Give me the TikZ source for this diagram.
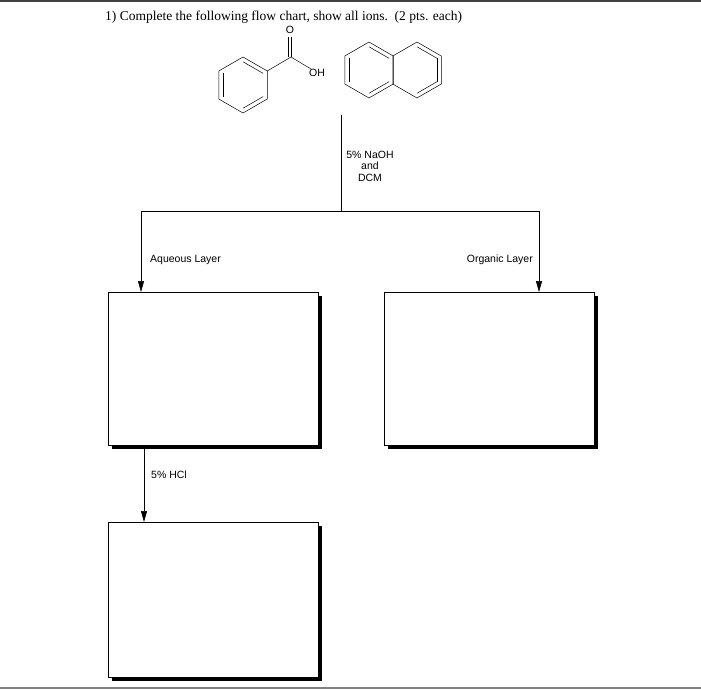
\documentclass[tikz,border=0pt]{standalone}
\usepackage{fontspec}
\usetikzlibrary{calc,arrows.meta}
\newfontfamily\arial{Liberation Sans}
\setmainfont{Liberation Serif}
\begin{document}
\begin{tikzpicture}[x=1pt,y=-1pt,
  lbl/.style={font=\arial\fontsize{10.5}{11.5}\selectfont,inner sep=0},
  bx/.style={draw,line width=0.6pt,fill=white,minimum width=210pt,minimum height=153pt,inner sep=0,anchor=north west},
  flow/.style={line width=0.6pt},
  arr/.style={flow,-{Triangle[length=11pt,width=6pt]}},
  bond/.style={line width=0.5pt}]
\useasboundingbox (0,0) rectangle (701,689);
\fill[white] (0,0) rectangle (701,689);
\draw[line width=2pt,black!75] (0,1) -- (701,1);
\draw[line width=1.5pt,black!50] (0,688) -- (701,688);
\node[anchor=west,inner sep=0,font=\fontsize{13.5}{15}\selectfont] (title) at (105,17) {1) Complete the following flow chart, show all ions.\ \ (2 pts. each)};
% benzoic acid
\begin{scope}[shift={(243,85)}]
\coordinate (c) at (0,0);
\foreach \a in {30,90,...,330}{\coordinate (b\a) at (\a:28);}
\draw[bond] (b30)--(b90)--(b150)--(b210)--(b270)--(b330)--cycle;
\foreach \p/\q in {150/210,270/330,30/90}{\draw[bond] ($(b\p)!0.17!(c)$)--($(b\q)!0.17!(c)$);}
\end{scope}
\coordinate (cc) at (291,57);
\draw[bond] (b330)--(cc)--(311,69);
\draw[bond] (cc)--(291,37);
\draw[bond] (288,57)--(288,37);
\node[lbl] (o) at (290,30) {O};
\node[lbl,anchor=west] (oh) at (309,73) {OH};
% naphthalene
\begin{scope}[shift={(369,70)}]
\coordinate (c) at (0,0);
\foreach \a in {30,90,...,330}{\coordinate (n\a) at (\a:28);}
\draw[bond] (n30)--(n90)--(n150)--(n210)--(n270)--(n330)--cycle;
\foreach \p/\q in {150/210,270/330,30/90}{\draw[bond] ($(n\p)!0.17!(c)$)--($(n\q)!0.17!(c)$);}
\end{scope}
\begin{scope}[shift={(417,70)}]
\coordinate (c) at (0,0);
\foreach \a in {30,90,...,330}{\coordinate (m\a) at (\a:28);}
\draw[bond] (m30)--(m90)--(m150)--(m210)--(m270)--(m330)--cycle;
\foreach \p/\q in {270/330,30/90}{\draw[bond] ($(m\p)!0.17!(c)$)--($(m\q)!0.17!(c)$);}
\draw[bond] ($(m330)!0.17!(c)$)--($(m30)!0.17!(c)$);
\end{scope}
% flow
\coordinate (top) at (341,115);
\coordinate (split) at (341,211);
\coordinate (left) at (141,211);
\coordinate (right) at (539,211);
\draw[flow] (top)--(split);
\draw[flow] (left)--(right);
\node[lbl,align=center] (naoh) at (370,166) {5\% NaOH\\and\\DCM};
% boxes
\fill (112,296) rectangle (322,449);
\node[bx] (aq) at (108,292) {};
\fill (388,296) rectangle (598,449);
\node[bx] (org) at (384,292) {};
\fill (112,526) rectangle (322,681);
\node[bx,minimum height=155pt] (fin) at (108,522) {};
\draw[arr] (left)--(left|-aq.north);
\draw[arr] (right)--(right|-org.north);
\node[lbl,anchor=west] (aql) at (150,260) {Aqueous Layer};
\node[lbl,anchor=east] (orgl) at (533,260) {Organic Layer};
\coordinate (hs) at (144,449);
\draw[arr] (hs)--(hs|-fin.north);
\node[lbl,anchor=west] (hcl) at (151,475) {5\% HCl};
\end{tikzpicture}
\end{document}
